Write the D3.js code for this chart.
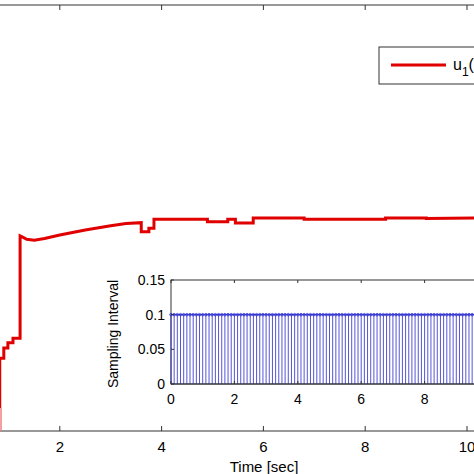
<!DOCTYPE html>
<html><head><meta charset="utf-8">
<script src="https://cdn.jsdelivr.net/npm/d3@7"></script>
<style>body{margin:0;background:#fff}svg{font-family:"Liberation Sans",Arial,sans-serif}</style>
</head><body><div id="chart"></div>
<script>
// red control signal u1 (points, steps given as duplicated times)
const uTime = [0.82,0.82,0.9,0.9,0.98,0.98,1.08,1.08,1.22,1.22,1.27,1.35,1.5,1.7,2,2.5,3,3.3,3.6,3.6,3.75,3.75,3.85,3.85,4.9,4.9,5.3,5.3,5.45,5.45,5.8,5.8,6.8,6.8,8.4,8.4,9.2,9.2,10.5];
const uValue = [0.054,0.171,0.171,0.195,0.195,0.207,0.207,0.218,0.218,0.458,0.455,0.45,0.448,0.452,0.46,0.472,0.482,0.487,0.489,0.468,0.468,0.476,0.476,0.497,0.497,0.491,0.491,0.497,0.497,0.488,0.488,0.5,0.5,0.497,0.497,0.5,0.5,0.499,0.5];
const mainTicks = [2,4,6,8,10];
// inset: sampling interval, constant 0.1 s
const sampleTime = d3.range(0, 101).map(i => i / 10);
const sampleValue = sampleTime.map(() => 0.1);
const insetXTicks = [0,2,4,6,8,10];
const insetYTicks = [0,0.05,0.1,0.15];

const width = 474, height = 474;
const svg = d3.select("#chart").append("svg").attr("width", width).attr("height", height);

const x = d3.scaleLinear().domain([0, 10]).range([-42, 467]);
const y = d3.scaleLinear().domain([0, 1]).range([431, 5]);

// main axes frame
svg.append("line").attr("x1", 0).attr("x2", width).attr("y1", 431).attr("y2", 431).attr("stroke", "#333");
svg.append("line").attr("x1", 0).attr("x2", width).attr("y1", 5).attr("y2", 5).attr("stroke", "#333");
const gx = svg.append("g");
mainTicks.forEach(t => {
    gx.append("line").attr("x1", x(t)).attr("x2", x(t)).attr("y1", 431).attr("y2", 426).attr("stroke", "#333");
    gx.append("line").attr("x1", x(t)).attr("x2", x(t)).attr("y1", 5).attr("y2", 10).attr("stroke", "#333");
    gx.append("text").attr("x", x(t)).attr("y", 452).attr("text-anchor", "middle").attr("font-size", 15).text(t);
});
svg.append("text").attr("x", 264).attr("y", 472).attr("text-anchor", "middle").attr("font-size", 15).text("Time [sec]");

const line = d3.line().x((d, i) => x(uTime[i])).y(d => y(d));
svg.append("line").attr("x1", 1).attr("x2", 1).attr("y1", y(0.054)).attr("y2", 431).attr("stroke", "#f08080").attr("stroke-width", 1.5);
svg.append("path").datum(uValue).attr("d", line).attr("fill", "none").attr("stroke", "#e00000").attr("stroke-width", 3);

// legend
svg.append("rect").attr("x", 379).attr("y", 47).attr("width", 110).attr("height", 37).attr("fill", "#fff").attr("stroke", "#333");
svg.append("line").attr("x1", 391).attr("x2", 446).attr("y1", 65).attr("y2", 65).attr("stroke", "#e00000").attr("stroke-width", 3);
const lt = svg.append("text").attr("x", 453).attr("y", 70).attr("font-size", 16).text("u");
lt.append("tspan").attr("dy", 6).attr("font-size", 12).text("1");
lt.append("tspan").attr("dy", -6).attr("font-size", 16).text("(t)");

// inset
const ix = d3.scaleLinear().domain([0, 10]).range([171, 488]);
const iy = d3.scaleLinear().domain([0, 0.15]).range([384, 280]);
const inset = svg.append("g");
inset.append("rect").attr("x", 171).attr("y", 280).attr("width", 320).attr("height", 104).attr("fill", "#fff").attr("stroke", "#333");
inset.selectAll(".stem").data(sampleValue).join("line")
    .attr("x1", (d, i) => ix(sampleTime[i])).attr("x2", (d, i) => ix(sampleTime[i]))
    .attr("y1", iy(0)).attr("y2", d => iy(d)).attr("stroke", "#2a2ad0").attr("stroke-width", 0.8);
inset.append("line").attr("x1", ix(0)).attr("x2", ix(10)).attr("y1", iy(0.1)).attr("y2", iy(0.1)).attr("stroke", "#2a2ad0").attr("stroke-width", 1);
inset.selectAll(".mk").data(sampleValue).join("circle")
    .attr("cx", (d, i) => ix(sampleTime[i])).attr("cy", d => iy(d)).attr("r", 1.3)
    .attr("fill", "none").attr("stroke", "#2a2ad0").attr("stroke-width", 0.8);
inset.append("line").attr("x1", 171).attr("x2", 491).attr("y1", 384).attr("y2", 384).attr("stroke", "#333");
insetXTicks.forEach(t => {
    inset.append("line").attr("x1", ix(t)).attr("x2", ix(t)).attr("y1", 384).attr("y2", 381).attr("stroke", "#333");
    inset.append("line").attr("x1", ix(t)).attr("x2", ix(t)).attr("y1", 280).attr("y2", 283).attr("stroke", "#333");
    inset.append("text").attr("x", ix(t)).attr("y", 404).attr("text-anchor", "middle").attr("font-size", 14).text(t);
});
insetYTicks.forEach(t => {
    inset.append("line").attr("x1", 171).attr("x2", 174).attr("y1", iy(t)).attr("y2", iy(t)).attr("stroke", "#333");
    inset.append("text").attr("x", 165).attr("y", iy(t) + 5).attr("text-anchor", "end").attr("font-size", 14).text(t);
});
inset.append("text").attr("transform", "translate(118,334) rotate(-90)").attr("text-anchor", "middle").attr("font-size", 14).text("Sampling Interval");
</script></body></html>
